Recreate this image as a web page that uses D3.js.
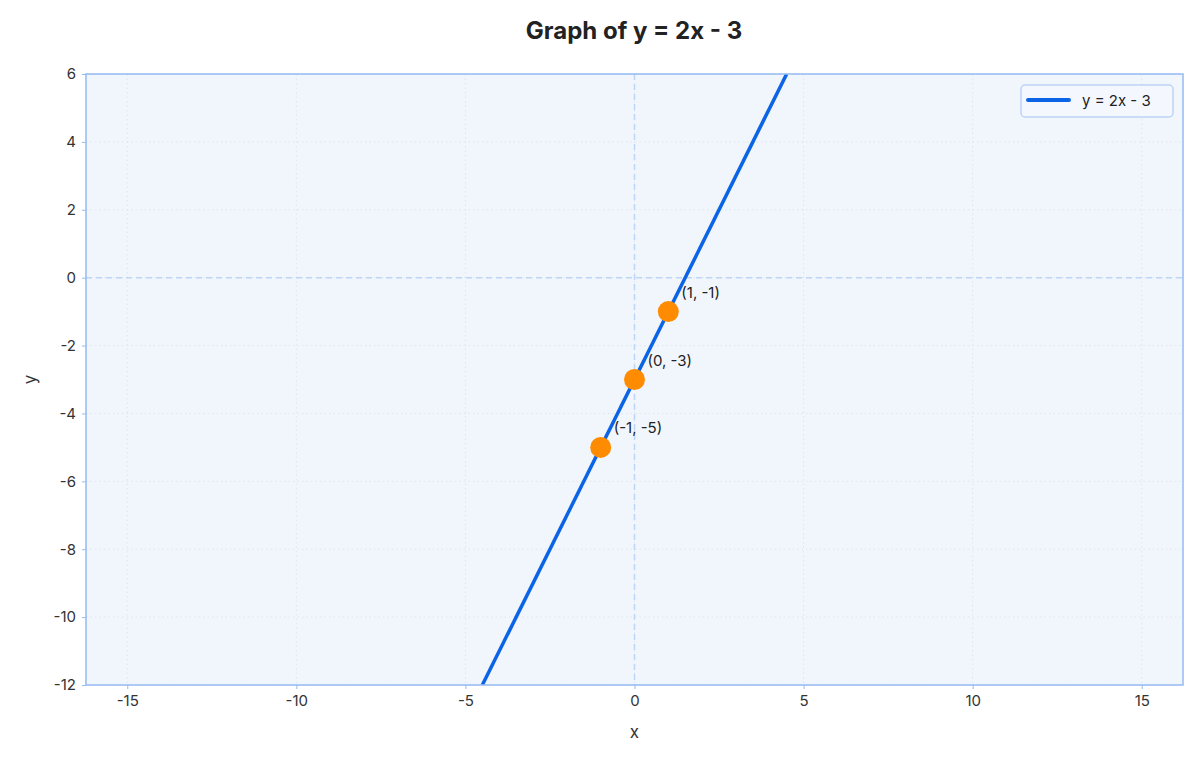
<!DOCTYPE html>
<html><head><meta charset="utf-8">
<script src="https://cdn.jsdelivr.net/npm/d3@7"></script>
<style>body{margin:0;background:#fff}text{font-family:Inter,"Noto Sans",sans-serif}</style>
</head><body><svg id="c" width="1200" height="761"></svg>
<script>
const lineX = [-4.5, 4.5];
const lineY = [-12, 6];
const pointX = [-1, 0, 1];
const pointY = [-5, -3, -1];
const pointLabels = ["(-1, -5)", "(0, -3)", "(1, -1)"];
const xTicks = [-15, -10, -5, 0, 5, 10, 15];
const yTicks = [-12, -10, -8, -6, -4, -2, 0, 2, 4, 6];

const svg = d3.select("#c");
const L = 86, R = 1183, T = 74, B = 685;
const x = d3.scaleLinear().domain([-16.22, 16.22]).range([L, R]);
const y = d3.scaleLinear().domain([-12, 6]).range([B, T]);

svg.append("rect").attr("x", L).attr("y", T).attr("width", R - L).attr("height", B - T)
  .attr("fill", "#f1f6fd");
// grid
svg.append("g").selectAll("line").data(xTicks).join("line")
  .attr("x1", d => x(d)).attr("x2", d => x(d)).attr("y1", T).attr("y2", B)
  .attr("stroke", "#dde5f0").attr("stroke-dasharray", "1.5,3");
svg.append("g").selectAll("line").data(yTicks).join("line")
  .attr("y1", d => y(d)).attr("y2", d => y(d)).attr("x1", L).attr("x2", R)
  .attr("stroke", "#dde5f0").attr("stroke-dasharray", "1.5,3");
// axes at zero
svg.append("line").attr("x1", L).attr("x2", R).attr("y1", y(0)).attr("y2", y(0))
  .attr("stroke", "#bfd5f5").attr("stroke-width", 1.5).attr("stroke-dasharray", "6,4");
svg.append("line").attr("x1", x(0)).attr("x2", x(0)).attr("y1", T).attr("y2", B)
  .attr("stroke", "#bfd5f5").attr("stroke-width", 1.5).attr("stroke-dasharray", "6,4");

const clip = svg.append("clipPath").attr("id", "cl").append("rect")
  .attr("x", L).attr("y", T).attr("width", R - L).attr("height", B - T);
svg.append("path").attr("clip-path", "url(#cl)")
  .attr("d", d3.line().x(d => x(d[0])).y(d => y(d[1]))(lineX.map((v, i) => [v, lineY[i]])))
  .attr("stroke", "#0b63e5").attr("stroke-width", 3.5).attr("fill", "none");

svg.append("g").selectAll("circle").data(pointX).join("circle")
  .attr("cx", d => x(d)).attr("cy", (d, i) => y(pointY[i])).attr("r", 10.5).attr("fill", "#ff8c00");
svg.append("g").selectAll("text").data(pointLabels).join("text")
  .attr("x", (d, i) => x(pointX[i]) + 13).attr("y", (d, i) => y(pointY[i]) - 14)
  .attr("font-size", 15).attr("fill", "#222").text(d => d);

svg.append("rect").attr("x", L).attr("y", T).attr("width", R - L).attr("height", B - T)
  .attr("fill", "none").attr("stroke", "#94bbf2").attr("stroke-width", 1.5);

// ticks
const xa = svg.append("g").attr("transform", `translate(0,${B})`).call(d3.axisBottom(x).tickValues(xTicks).tickSize(4).tickPadding(6));
const ya = svg.append("g").attr("transform", `translate(${L},0)`).call(d3.axisLeft(y).tickValues(yTicks).tickSize(4).tickPadding(6));
[xa, ya].forEach(a => {
  a.select(".domain").remove();
  a.selectAll("line").attr("stroke", "#94bbf2");
  a.selectAll("text").attr("font-size", 15).attr("fill", "#333").style("font-family", "Inter,sans-serif");
});
ya.selectAll("text").text(d => d < 0 ? "-" + Math.abs(d) : d);
xa.selectAll("text").text(d => d < 0 ? "-" + Math.abs(d) : d);

svg.append("text").attr("x", (L + R) / 2).attr("y", 738).attr("text-anchor", "middle")
  .attr("font-size", 17).attr("fill", "#333").text("x");
svg.append("text").attr("transform", `translate(36,${(T + B) / 2}) rotate(-90)`).attr("text-anchor", "middle")
  .attr("font-size", 17).attr("fill", "#333").text("y");
svg.append("text").attr("x", 634).attr("y", 39).attr("text-anchor", "middle")
  .attr("font-size", 24).attr("font-weight", "bold").attr("fill", "#222").text("Graph of y = 2x - 3");

// legend
const lg = svg.append("g");
lg.append("rect").attr("x", 1021).attr("y", 85).attr("width", 152).attr("height", 32).attr("rx", 4)
  .attr("fill", "#f4f8fe").attr("stroke", "#bcd3f5").attr("stroke-width", 1.5);
lg.append("line").attr("x1", 1028).attr("x2", 1069).attr("y1", 100).attr("y2", 100)
  .attr("stroke", "#0b63e5").attr("stroke-width", 4).attr("stroke-linecap", "round");
lg.append("text").attr("x", 1082).attr("y", 106).attr("font-size", 15).attr("fill", "#222").text("y = 2x - 3");
</script></body></html>
